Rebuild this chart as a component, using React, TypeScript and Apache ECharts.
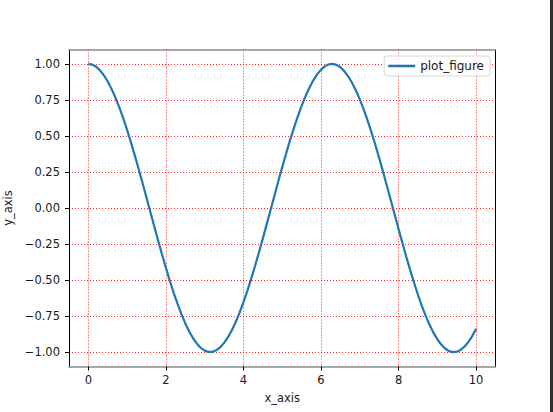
import React, { useEffect, useRef } from "react";
import * as echarts from "echarts";

const xValues = [
  0.0, 0.1, 0.2, 0.3, 0.4, 0.5, 0.6, 0.7, 0.8, 0.9,
  1.0, 1.1, 1.2, 1.3, 1.4, 1.5, 1.6, 1.7, 1.8, 1.9,
  2.0, 2.1, 2.2, 2.3, 2.4, 2.5, 2.6, 2.7, 2.8, 2.9,
  3.0, 3.1, 3.2, 3.3, 3.4, 3.5, 3.6, 3.7, 3.8, 3.9,
  4.0, 4.1, 4.2, 4.3, 4.4, 4.5, 4.6, 4.7, 4.8, 4.9,
  5.0, 5.1, 5.2, 5.3, 5.4, 5.5, 5.6, 5.7, 5.8, 5.9,
  6.0, 6.1, 6.2, 6.3, 6.4, 6.5, 6.6, 6.7, 6.8, 6.9,
  7.0, 7.1, 7.2, 7.3, 7.4, 7.5, 7.6, 7.7, 7.8, 7.9,
  8.0, 8.1, 8.2, 8.3, 8.4, 8.5, 8.6, 8.7, 8.8, 8.9,
  9.0, 9.1, 9.2, 9.3, 9.4, 9.5, 9.6, 9.7, 9.8, 9.9,
  10.0,
];
const yValues = [
  1.0, 0.995, 0.98, 0.955, 0.921, 0.878, 0.825, 0.765, 0.697, 0.622,
  0.54, 0.454, 0.362, 0.267, 0.17, 0.071, -0.029, -0.129, -0.227, -0.323,
  -0.416, -0.505, -0.589, -0.666, -0.737, -0.801, -0.857, -0.904, -0.942, -0.971,
  -0.99, -0.999, -0.998, -0.987, -0.967, -0.936, -0.897, -0.848, -0.791, -0.726,
  -0.654, -0.575, -0.49, -0.401, -0.307, -0.211, -0.112, -0.012, 0.087, 0.187,
  0.284, 0.378, 0.469, 0.554, 0.635, 0.709, 0.776, 0.835, 0.886, 0.927,
  0.96, 0.983, 0.997, 1.0, 0.993, 0.977, 0.95, 0.914, 0.869, 0.815,
  0.754, 0.685, 0.608, 0.527, 0.439, 0.347, 0.251, 0.153, 0.054, -0.046,
  -0.146, -0.244, -0.339, -0.431, -0.519, -0.602, -0.679, -0.749, -0.811, -0.865,
  -0.911, -0.948, -0.975, -0.993, -1.0, -0.997, -0.985, -0.962, -0.93, -0.889,
  -0.839,
];
const xTicks = [0, 2, 4, 6, 8, 10];
const yTicks = [-1.0, -0.75, -0.5, -0.25, 0.0, 0.25, 0.5, 0.75, 1.0];
const seriesName = "plot_figure";
const xName = "x_axis";
const yName = "y_axis";

const FONT = "'DejaVu Sans', sans-serif";
const FS = 11.5;
const TXT = "#1a1a1a";

export default function App() {
  const ref = useRef<HTMLDivElement>(null);
  useEffect(() => {
    document.body.style.margin = "0";
    const chart = echarts.init(ref.current!, null, { renderer: "svg" });
    const gridLine = { show: true, lineStyle: { color: "rgba(255,0,0,0.85)", width: 1, type: [1, 2] as any } };
    const data = xValues.map((x, i) => [x, yValues[i]]);
    chart.setOption({
      animation: false,
      backgroundColor: "#fff",
      textStyle: { fontFamily: FONT },
      grid: { left: 69, top: 49.5, right: 57.5, bottom: 45.5, containLabel: false, outerBoundsMode: "none" },
      legend: {
        show: true,
        right: 63,
        top: 56,
        icon: "rect",
        itemWidth: 27,
        itemHeight: 2.5,
        itemGap: 8,
        padding: [4, 6, 4, 4],
        backgroundColor: "rgba(255,255,255,0.85)",
        borderColor: "#d6d6d6",
        borderWidth: 1,
        borderRadius: 3,
        textStyle: { fontFamily: FONT, fontSize: 12, color: TXT },
        data: [seriesName],
      },
      xAxis: [
        {
          type: "value",
          min: -0.5,
          max: 10.5,
          name: xName,
          nameLocation: "middle",
          nameGap: 25,
          nameTextStyle: { fontFamily: FONT, fontSize: FS, color: TXT },
          axisLine: { show: true, onZero: false, lineStyle: { color: "#8a8a8a", width: 1.5 } },
          axisTick: { show: true, length: 4, customValues: xTicks, lineStyle: { color: "#000" } },
          axisLabel: {
            customValues: xTicks,
            margin: 7,
            fontFamily: FONT,
            fontSize: FS,
            color: TXT,
            formatter: (v: number) => String(v),
          },
          splitLine: gridLine,
        },
        {
          type: "value",
          position: "top",
          min: -0.5,
          max: 10.5,
          axisLine: { show: true, onZero: false, lineStyle: { color: "#8a8a8a", width: 1.5 } },
          axisTick: { show: false },
          axisLabel: { show: false },
          splitLine: { show: false },
        },
      ],
      yAxis: [
        {
          type: "value",
          min: -1.1,
          max: 1.1,
          name: yName,
          nameLocation: "middle",
          nameGap: 38,
          nameRotate: 90,
          nameTextStyle: { fontFamily: FONT, fontSize: FS, color: TXT },
          axisLine: { show: true, onZero: false, lineStyle: { color: "#000", width: 1 } },
          axisTick: { show: true, length: 4, customValues: yTicks, lineStyle: { color: "#000" } },
          axisLabel: {
            customValues: yTicks,
            margin: 9,
            fontFamily: FONT,
            fontSize: FS,
            color: TXT,
            formatter: (v: number) => v.toFixed(2).replace("-", "\u2212"),
          },
          splitLine: gridLine,
        },
        {
          type: "value",
          position: "right",
          min: -1.1,
          max: 1.1,
          axisLine: { show: true, onZero: false, lineStyle: { color: "#000", width: 1 } },
          axisTick: { show: false },
          axisLabel: { show: false },
          splitLine: { show: false },
        },
      ],
      graphic: [
        {
          type: "rect",
          right: 0,
          top: 0,
          shape: { width: 3, height: 412 },
          style: { fill: "#2e2e2e" },
        },
      ],
      series: [
        {
          name: seriesName,
          type: "line",
          data,
          smooth: false,
          showSymbol: false,
          symbol: "none",
          lineStyle: { color: "#1f77b4", width: 2.2 },
          itemStyle: { color: "#1f77b4" },
        },
      ],
    });
    return () => chart.dispose();
  }, []);
  return <div ref={ref} style={{ width: 553, height: 412 }} />;
}
